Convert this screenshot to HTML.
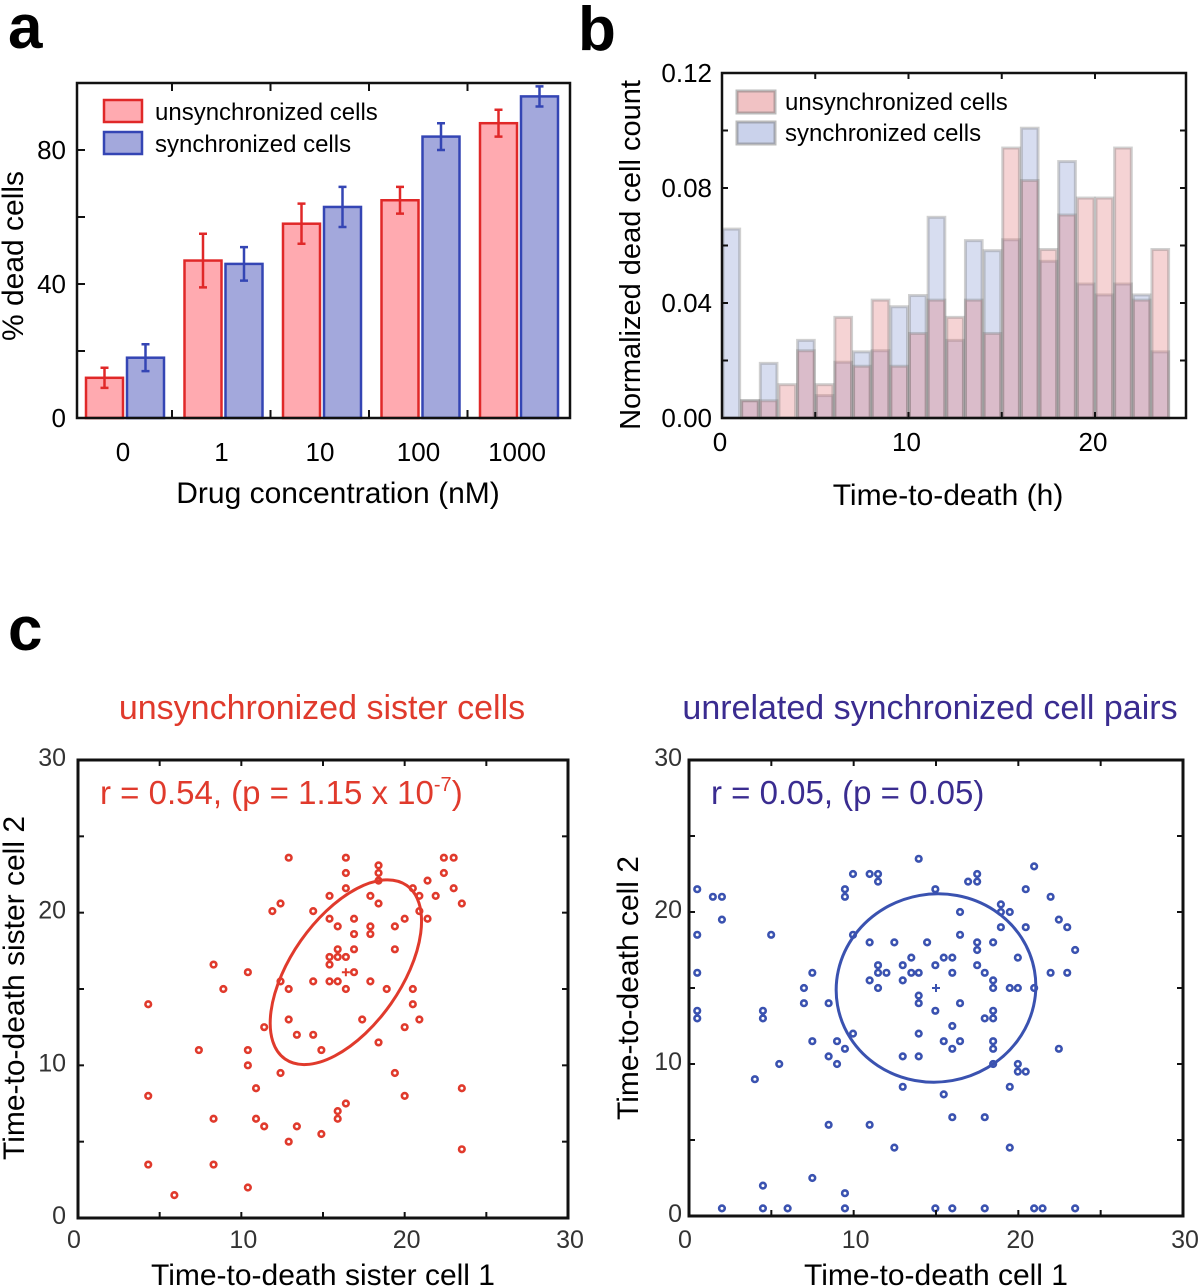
<!DOCTYPE html>
<html><head><meta charset="utf-8">
<style>
html,body{margin:0;padding:0;background:#fff;}
svg{display:block;font-family:"Liberation Sans",Arial,sans-serif;}
</style></head>
<body>
<svg id="fig" width="1200" height="1286" viewBox="0 0 1200 1286" xmlns="http://www.w3.org/2000/svg">
  <text x="8" y="48" font-size="62" font-weight="bold">a</text>
  <text x="578" y="50" font-size="62" font-weight="bold">b</text>
  <text x="8" y="650" font-size="62" font-weight="bold">c</text>
  <g id="pa"></g>
  <g id="pb"></g>
  <g id="pc1"></g>
  <g id="pc2"></g>
</svg>
<script>
// ---------- Panel a data ----------
const aCategories = ["0","1","10","100","1000"];
const aUnsync = [12, 47, 58, 65, 88];
const aUnsyncErr = [3, 8, 6, 4, 4];
const aSync = [18, 46, 63, 84, 96];
const aSyncErr = [4, 5, 6, 4, 3];
const aYTicks = [0, 40, 80];

// ---------- Panel b data ----------
const bBinStarts = [0,1,2,3,4,5,6,7,8,9,10,11,12,13,14,15,16,17,18,19,20,21,22,23];
const bUnsync = [0,0.006,0.006,0.0116,0.0234,0.0116,0.035,0.018,0.041,0.018,0.0294,0.041,0.035,0.041,0.0294,0.0939,0.0826,0.0586,0.0706,0.0765,0.0765,0.0939,0.041,0.0586];
const bSync = [0.0657,0.006,0.019,0,0.027,0.0078,0.0194,0.023,0.0234,0.0387,0.0426,0.0698,0.027,0.0617,0.0582,0.062,0.1008,0.0545,0.0892,0.0466,0.0428,0.0466,0.0428,0.023];
const bYTicks = [0, 0.04, 0.08, 0.12];
const bYTickLabels = ["0.00","0.04","0.08","0.12"];
const bXTicks = [0, 10, 20];

// ---------- Panel c data ----------
const c1X = [12.9,16.4,16.4,18.4,18.4,18.4,22.4,23.0,22.4,21.4,20.5,20.9,21.9,23.0,23.5,20.9,21.4,16.4,15.4,17.9,18.4,12.4,11.9,14.4,15.4,16.9,20.0,15.9,17.9,19.4,16.9,17.9,15.9,16.9,19.4,15.4,15.9,16.4,15.4,16.9,8.3,10.4,12.4,14.4,15.4,15.9,17.9,8.9,12.9,16.4,18.9,20.5,4.3,20.5,12.9,17.4,20.9,11.4,20.0,13.4,14.4,18.4,7.4,10.4,14.9,10.4,12.4,19.4,4.3,20.0,10.9,23.5,16.4,15.9,15.9,8.3,10.9,11.4,13.4,14.9,12.9,23.5,4.3,8.3,10.4,5.9];
const c1Y = [23.6,23.6,22.6,23.1,22.6,22.1,23.6,23.6,22.6,22.1,21.6,21.1,21.1,21.6,20.6,20.1,19.6,21.6,21.1,21.1,20.6,20.6,20.1,20.1,19.6,19.6,19.6,19.1,19.1,19.1,18.6,18.6,17.6,17.6,17.6,17.1,17.1,17.1,16.6,16.1,16.6,16.1,15.5,15.5,15.5,15.5,15.5,15.0,15.0,15.0,15.0,15.0,14.0,14.0,13.0,13.0,13.0,12.5,12.5,12.0,12.0,11.5,11.0,11.0,11.0,10.0,9.5,9.5,8.0,8.0,8.5,8.5,7.5,7.0,6.5,6.5,6.5,6.0,6.0,5.5,5.0,4.5,3.5,3.5,2.0,1.5];
const c2X = [13.95,9.96,10.97,11.48,11.48,17.5,16.95,17.5,20.96,0.5,1.45,2.0,2.0,9.47,9.47,14.96,20.45,21.96,18.94,18.94,19.48,16.46,22.46,22.97,18.94,20.45,0.5,4.99,9.96,16.46,10.97,12.47,14.46,17.5,18.47,17.5,23.45,13.5,15.47,15.99,19.97,11.48,12.98,14.96,17.5,0.5,7.49,11.48,11.99,13.5,13.95,15.99,17.96,21.96,22.97,10.97,12.98,18.47,6.98,11.48,18.47,19.48,19.97,20.96,13.95,6.98,8.48,13.95,16.46,0.5,4.49,14.96,18.47,0.5,4.49,17.96,18.47,15.99,9.96,13.95,7.49,8.99,15.47,16.46,18.47,9.47,15.99,18.47,22.46,8.48,12.98,13.95,5.48,8.99,18.47,19.97,19.97,20.45,4.0,12.98,19.48,15.47,15.99,17.96,8.48,10.97,12.47,19.48,7.49,4.49,9.47,2.0,4.49,5.99,9.47,14.96,15.99,17.96,20.96,21.47,23.45];
const c2Y = [23.5,22.5,22.5,22.5,22.0,22.5,22.0,22.0,23.0,21.5,21.0,21.0,19.5,21.5,21.0,21.5,21.5,21.0,20.5,20.0,20.0,20.0,19.5,19.0,19.0,19.0,18.5,18.5,18.5,18.5,18.0,18.0,18.0,18.0,18.0,17.5,17.5,17.0,17.0,17.0,17.0,16.5,16.5,16.5,16.5,16.0,16.0,16.0,16.0,16.0,16.0,16.0,16.0,16.0,16.0,15.5,15.5,15.5,15.0,15.0,15.0,15.0,15.0,15.0,14.5,14.0,14.0,14.0,14.0,13.5,13.5,13.5,13.5,13.0,13.0,13.0,13.0,12.5,12.0,12.0,11.5,11.5,11.5,11.5,11.5,11.0,11.0,11.0,11.0,10.5,10.5,10.5,10.0,10.0,10.0,10.0,9.5,9.5,9.0,8.5,8.5,8.0,6.5,6.5,6.0,6.0,4.5,4.5,2.5,2.0,1.5,0.5,0.5,0.5,0.5,0.5,0.5,0.5,0.5,0.5,0.5];
const cTicks = [0, 10, 20, 30];

const NS = "http://www.w3.org/2000/svg";
function mk(parent, tag, attrs, text){
  const e = document.createElementNS(NS, tag);
  for (const k in attrs) e.setAttribute(k, attrs[k]);
  if (text !== undefined) e.textContent = text;
  parent.appendChild(e);
  return e;
}

// ===== Panel a =====
(function(){
  const g = document.getElementById('pa');
  const L=77, R=570, T=83, B=418;
  const y = v => B - v*(B-T)/100;
  const gc = i => 123 + i*98.5;
  for (let i=0;i<aCategories.length;i++){
    const c = gc(i);
    const r1 = mk(g,'rect',{x:c-37,y:y(aUnsync[i]),width:37,height:B-y(aUnsync[i]),fill:'#ffaab0',stroke:'#e02828','stroke-width':2.5});
    
    
    const r2 = mk(g,'rect',{x:c+4,y:y(aSync[i]),width:37,height:B-y(aSync[i]),fill:'#a3a8dc',stroke:'#3445b4','stroke-width':2.5});
    
    
    [[c-18.5,aUnsync[i],aUnsyncErr[i],'#e02828'],[c+22.5,aSync[i],aSyncErr[i],'#3445b4']].forEach(([x,v,e,col])=>{
      const eg = mk(g,'path',{d:`M${x},${y(v+e)}V${y(v-e)}M${x-4},${y(v+e)}h8M${x-4},${y(v-e)}h8`,stroke:col,'stroke-width':2.5,fill:'none'});
      
      
    });
    const t = mk(g,'text',{x:c,y:461,'font-size':26,'text-anchor':'middle'},aCategories[i]);
    
    
  }
  mk(g,'rect',{x:L,y:T,width:R-L,height:B-T,fill:'none',stroke:'#111','stroke-width':2.5});
  for (let v=20; v<100; v+=20){ mk(g,'line',{x1:L,x2:L+8,y1:y(v),y2:y(v),stroke:'#111','stroke-width':2}); }
  for (let i=0;i<4;i++){ const x=gc(i)+49; mk(g,'line',{x1:x,x2:x,y1:B,y2:B-8,stroke:'#111','stroke-width':2}); mk(g,'line',{x1:x,x2:x,y1:T,y2:T+8,stroke:'#111','stroke-width':2}); }
  aYTicks.forEach(v=>{
    const t = mk(g,'text',{x:66,y:y(v)+9,'font-size':26,'text-anchor':'end'},String(v));
    
    
  });
  const yt = mk(g,'text',{x:0,y:0,'font-size':30,'text-anchor':'middle',transform:'translate(23,256) rotate(-90)'},'% dead cells');
  
  
  const xt = mk(g,'text',{x:338,y:503,'font-size':30,'text-anchor':'middle'},'Drug concentration (nM)');
  
  
  const l1 = mk(g,'rect',{x:104,y:100,width:38,height:22,fill:'#ffaab0',stroke:'#e02828','stroke-width':2.5});
  
  
  const l2 = mk(g,'rect',{x:104,y:132,width:38,height:22,fill:'#a3a8dc',stroke:'#3445b4','stroke-width':2.5});
  
  
  const lt1 = mk(g,'text',{x:155,y:120,'font-size':24},'unsynchronized cells');
  
  
  const lt2 = mk(g,'text',{x:155,y:152,'font-size':24},'synchronized cells');
  
  
})();

// ===== Panel b =====
(function(){
  const g = document.getElementById('pb');
  const L=722, R=1186, T=73, B=418;
  const x = v => L + v*18.65;
  const y = v => B - v*(B-T)/0.12;
  const draw = (vals, fill, name) => {
    for (let i=0;i<bBinStarts.length;i++){
      if (vals[i] <= 0) continue;
      const r = mk(g,'rect',{x:x(bBinStarts[i])+1,y:y(vals[i]),width:18.65-2,height:B-y(vals[i]),fill:fill,stroke:'rgba(120,120,120,0.35)','stroke-width':3});
      
      
    }
  };
  draw(bSync,'rgba(150,165,215,0.38)','hist-bar-sync');
  draw(bUnsync,'rgba(225,120,125,0.33)','hist-bar-unsync');
  mk(g,'rect',{x:L,y:T,width:R-L,height:B-T,fill:'none',stroke:'#111','stroke-width':2.5});
  for (let v=0.02; v<0.12; v+=0.02){ mk(g,'line',{x1:L,x2:L+6,y1:y(v),y2:y(v),stroke:'#111','stroke-width':2}); mk(g,'line',{x1:R,x2:R-6,y1:y(v),y2:y(v),stroke:'#111','stroke-width':2}); }
  for (let v=5; v<25; v+=5){ mk(g,'line',{x1:x(v),x2:x(v),y1:T,y2:T+6,stroke:'#111','stroke-width':2}); mk(g,'line',{x1:x(v),x2:x(v),y1:B,y2:B-6,stroke:'#111','stroke-width':2}); }
  bYTicks.forEach((v,i)=>{
    const t = mk(g,'text',{x:712,y:y(v)+9,'font-size':26,'text-anchor':'end'},bYTickLabels[i]);
    
    
  });
  bXTicks.forEach(v=>{
    const t = mk(g,'text',{x:x(v)-2,y:451,'font-size':26,'text-anchor':'middle'},String(v));
    
    
  });
  const yt = mk(g,'text',{x:0,y:0,'font-size':29,'text-anchor':'middle',transform:'translate(640,255) rotate(-90)'},'Normalized dead cell count');
  
  
  const xt = mk(g,'text',{x:948,y:505,'font-size':30,'text-anchor':'middle'},'Time-to-death (h)');
  
  
  const s1 = mk(g,'rect',{x:737,y:91,width:38,height:22,fill:'rgba(225,120,125,0.45)',stroke:'rgba(120,120,120,0.5)','stroke-width':3});
  
  
  const s2 = mk(g,'rect',{x:737,y:122,width:38,height:22,fill:'rgba(150,165,215,0.5)',stroke:'rgba(120,120,120,0.5)','stroke-width':3});
  
  
  const t1 = mk(g,'text',{x:785,y:110,'font-size':24},'unsynchronized cells');
  
  
  const t2 = mk(g,'text',{x:785,y:141,'font-size':24},'synchronized cells');
  
  
})();

// ===== Panel c =====
function scatter(gid, box, xs, ys, col, txtCol, title, titleX, annot, yTitle, xTitle, ell){
  const g = document.getElementById(gid);
  const {L,R,T,B,tx,ylab} = box;
  const x = v => L + v*(R-L)/30;
  const y = v => B - v*(B-T)/30;
  const tt = mk(g,'text',{x:titleX,y:719,'font-size':34,'text-anchor':'middle',fill:txtCol},title);
  
  
  for (let i=0;i<xs.length;i++){
    const c = mk(g,'circle',{cx:x(xs[i]),cy:y(ys[i]),r:2.8,fill:'none',stroke:col,'stroke-width':2.6});
    
    
  }
  const mx = xs.reduce((a,b)=>a+b,0)/xs.length, my = ys.reduce((a,b)=>a+b,0)/ys.length;
  const cx = ell.cx!==undefined?ell.cx:mx, cy = ell.cy!==undefined?ell.cy:my;
  const e = mk(g,'ellipse',{cx:x(cx),cy:y(cy),rx:ell.rx,ry:ell.ry,fill:'none',stroke:col,'stroke-width':3,transform:`rotate(${ell.rot} ${x(cx)} ${y(cy)})`});
  
  
  const p = mk(g,'path',{d:`M${x(cx)-4},${y(cy)}h8M${x(cx)},${y(cy)-4}v8`,stroke:col,'stroke-width':2});
  
  
  mk(g,'rect',{x:L,y:T,width:R-L,height:B-T,fill:'none',stroke:'#111','stroke-width':3});
  for (let v=5; v<30; v+=5){
    mk(g,'line',{x1:L,x2:L+6,y1:y(v),y2:y(v),stroke:'#111','stroke-width':2});
    mk(g,'line',{x1:R,x2:R-6,y1:y(v),y2:y(v),stroke:'#111','stroke-width':2});
    mk(g,'line',{x1:x(v),x2:x(v),y1:T,y2:T+6,stroke:'#111','stroke-width':2});
    mk(g,'line',{x1:x(v),x2:x(v),y1:B,y2:B-6,stroke:'#111','stroke-width':2});
  }
  cTicks.forEach(v=>{
    const t1 = mk(g,'text',{x:ylab,y:y(v)+6,'font-size':25,'text-anchor':'end',fill:'#333'},String(v));
    
    
    const t2 = mk(g,'text',{x:x(v)+(v===0?-4:2),y:1248,'font-size':25,'text-anchor':'middle',fill:'#333'},String(v));
    
    
  });
  const an = mk(g,'text',{x:L+22,y:T+44,'font-size':33,fill:txtCol});
  
  
  an.innerHTML = annot;
  const yt = mk(g,'text',{x:0,y:0,'font-size':30,'text-anchor':'middle',transform:`translate(${tx},988) rotate(-90)`},yTitle);
  
  
  const xt = mk(g,'text',{x:(L+R)/2,y:1285,'font-size':30,'text-anchor':'middle'},xTitle);
  
  
}
scatter('pc1',{L:78,R:568,T:760,B:1218,tx:24,ylab:66},c1X,c1Y,'#e03a2c','#e03a2c','unsynchronized sister cells',322,
  'r = 0.54, (p = 1.15 x 10<tspan dy="-13" font-size="20">-7</tspan><tspan dy="13">)</tspan>',
  'Time-to-death sister cell 2','Time-to-death sister cell 1',{cx:16.4,cy:16.1,rx:106,ry:55,rot:-55});
scatter('pc2',{L:689,R:1183,T:760,B:1216,tx:638,ylab:682},c2X,c2Y,'#3a52b0','#3a2c90','unrelated synchronized cell pairs',930,
  'r = 0.05, (p = 0.05)',
  'Time-to-death cell 2','Time-to-death cell 1',{cx:15,cy:15,rx:100,ry:94,rot:-10});
</script>
</body></html>
